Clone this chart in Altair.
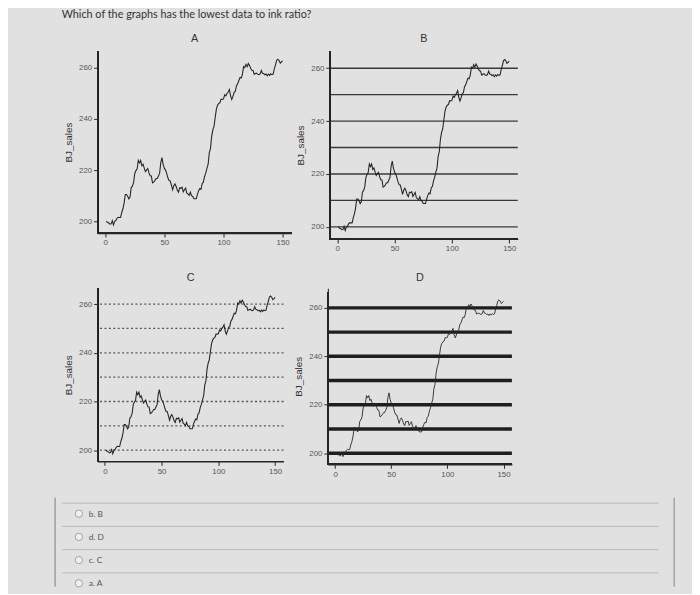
import altair as alt
import pandas as pd

# ---- data -------------------------------------------------------------
bj_sales = [
    200.1, 199.5, 199.4, 198.9, 199.0, 200.2, 198.6, 200.0, 200.3, 201.2,
    201.6, 201.5, 201.5, 203.5, 204.9, 207.1, 210.5, 210.5, 209.8, 208.8,
    209.5, 213.2, 213.7, 215.1, 218.7, 219.8, 220.5, 223.8, 222.8, 223.8,
    221.7, 222.3, 220.8, 219.4, 220.1, 220.6, 218.9, 217.8, 217.7, 215.0,
    215.3, 215.9, 216.7, 216.7, 217.7, 218.7, 222.9, 224.9, 222.2, 220.7,
    220.0, 218.7, 217.0, 215.9, 215.8, 214.1, 212.3, 213.9, 214.6, 213.6,
    212.1, 211.4, 213.1, 212.9, 213.3, 211.5, 212.3, 213.0, 211.0, 210.7,
    210.1, 211.4, 210.0, 209.7, 208.8, 208.8, 208.8, 210.6, 211.9, 212.8,
    212.5, 214.8, 215.3, 217.5, 218.8, 220.7, 222.2, 226.7, 228.4, 233.2,
    235.7, 237.1, 240.6, 243.8, 245.3, 246.0, 246.3, 247.7, 247.6, 247.8,
    249.4, 249.0, 249.9, 250.5, 251.5, 249.0, 247.6, 248.8, 250.4, 250.7,
    253.0, 253.7, 255.0, 256.2, 256.0, 257.4, 260.4, 260.0, 261.3, 260.4,
    261.6, 260.8, 259.8, 259.0, 258.9, 257.4, 257.7, 257.9, 257.4, 257.3,
    257.6, 258.9, 257.8, 257.7, 257.2, 257.5, 256.8, 257.5, 257.0, 257.6,
    257.3, 257.5, 259.6, 261.1, 262.9, 263.3, 262.8, 261.8, 262.2, 262.7,
]
time_index = list(range(1, len(bj_sales) + 1))
x_ticks = [0, 50, 100, 150]
y_ticks = [200, 220, 240, 260]
grid_values = [200, 210, 220, 230, 240, 250, 260]
panel_letters = ["A", "B", "C", "D"]
option_labels = ["b. B", "d. D", "c. C", "a. A"]
question = "Which of the graphs has the lowest data to ink ratio?"

series = pd.DataFrame({"t": time_index, "BJ_sales": bj_sales})
grid_df = pd.DataFrame({"g": grid_values})
opt_df = pd.DataFrame({"i": list(range(len(option_labels))), "label": option_labels})
opt_df["ti"] = opt_df["i"] + 0.45

# ---- styling ------------------------------------------------------------
BG = "#e1e1e1"
INK = "#262626"
AXIS_FONT = "Liberation Sans"

x_scale = alt.Scale(domain=[-6.45, 157.45], nice=False, zero=False)


def y_scale(top=266.5):
    return alt.Scale(domain=[195.4, top], nice=False, zero=False)


def x_axis():
    return alt.Axis(values=x_ticks, title=None, grid=False, domain=True,
                    domainColor=INK, tickColor=INK, labelColor="#555555",
                    labelFontSize=8, labelFont=AXIS_FONT, tickSize=4,
                    labelPadding=2, domainWidth=1.1, tickWidth=1)


def y_axis():
    return alt.Axis(values=y_ticks, title="BJ_sales", grid=False, domain=True,
                    domainColor=INK, tickColor=INK, labelColor="#555555",
                    labelFontSize=8, labelFont=AXIS_FONT, tickSize=4,
                    labelPadding=2, domainWidth=1.1, tickWidth=1,
                    titleFont=AXIS_FONT, titleFontSize=10, titleColor="#333333",
                    titleFontWeight="normal", titlePadding=5)


def panel(letter, w, h, grid=None, line_width=1.1, title_offset=7,
          y_top=266.5, axis_top=0):
    ys = y_scale(y_top)
    line = alt.Chart(series).mark_line(color=INK, strokeWidth=line_width).encode(
        x=alt.X("t:Q", scale=x_scale, axis=x_axis()),
        y=alt.Y("BJ_sales:Q", scale=ys, axis=y_axis()),
    )
    # classic axis lines along the left and bottom edges of the panel
    y_line = alt.Chart(series).mark_rule(color=INK, strokeWidth=1.1).encode(
        x=alt.value(0), y=alt.value(axis_top), y2=alt.value(h)
    )
    x_line = alt.Chart(series).mark_rule(color=INK, strokeWidth=1.1).encode(
        x=alt.value(0), x2=alt.value(w), y=alt.value(h)
    )
    layers = []
    if grid is not None:
        layers.append(
            alt.Chart(grid_df).mark_rule(**grid).encode(
                y=alt.Y("g:Q", scale=ys, axis=y_axis())
            )
        )
    layers += [line, y_line, x_line]
    return alt.layer(*layers).properties(
        width=w, height=h,
        title=alt.TitleParams(letter, fontSize=11, font="Liberation Sans",
                              fontWeight="normal", color="#333333",
                              offset=title_offset),
    )


pA = panel("A", 197, 185)
pB = panel("B", 191, 191, grid=dict(color="#3a3a3a", strokeWidth=1.4))
pC = panel("C", 189, 176, grid=dict(color="#555555", strokeWidth=1.3,
                                     strokeDash=[2, 2.5]), title_offset=5)
pD = panel("D", 187, 179, grid=dict(color="#1e1e1e", strokeWidth=3.4),
           line_width=0.9, title_offset=5, y_top=268.1, axis_top=4)

row1 = alt.hconcat(pA, pB, spacing=3)
row2 = alt.hconcat(pC, pD, spacing=9)

opt_y = alt.Scale(domain=[-0.23, 3.37], nice=False, zero=False, reverse=True)
opt_rules = alt.Chart(opt_df).mark_rule(color="#b9b9b9", strokeWidth=1).encode(
    x=alt.value(-36), x2=alt.value(570),
    y=alt.Y("i:Q", scale=opt_y, axis=None),
)
opt_circles = alt.Chart(opt_df).mark_point(
    shape="circle", size=55, filled=True, fill="#f0f0f0", stroke="#a0a0a0",
    strokeWidth=1, opacity=1
).encode(
    x=alt.value(-19),
    y=alt.Y("ti:Q", scale=opt_y, axis=None),
)
opt_text = alt.Chart(opt_df).mark_text(
    align="left", baseline="middle", font="Lato", fontSize=8.5, color="#555555"
).encode(
    x=alt.value(-9),
    y=alt.Y("ti:Q", scale=opt_y, axis=None),
    text="label:N",
)
# page card borders seen in the photo
card_left = alt.Chart(opt_df).mark_rule(color="#a8a8a8", strokeWidth=1).encode(
    x=alt.value(-43), y=alt.value(0), y2=alt.value(90)
)
card_right = alt.Chart(opt_df).mark_rule(color="#a8a8a8", strokeWidth=1).encode(
    x=alt.value(586), y=alt.value(0), y2=alt.value(90)
)
options = alt.layer(card_left, card_right, opt_rules, opt_circles, opt_text).properties(
    width=560, height=85
)

chart = alt.vconcat(row1, row2, options, spacing=19).properties(
    title=alt.TitleParams(question, anchor="start", font="Lato", fontSize=11,
                          fontWeight="normal", color="#333333", offset=13, dx=7),
    background=BG,
    padding={"left": 47, "top": -4, "right": 17, "bottom": 0},
).configure_view(stroke=None)

chart.save("out.html", embed_options={"renderer": "svg", "actions": False})
